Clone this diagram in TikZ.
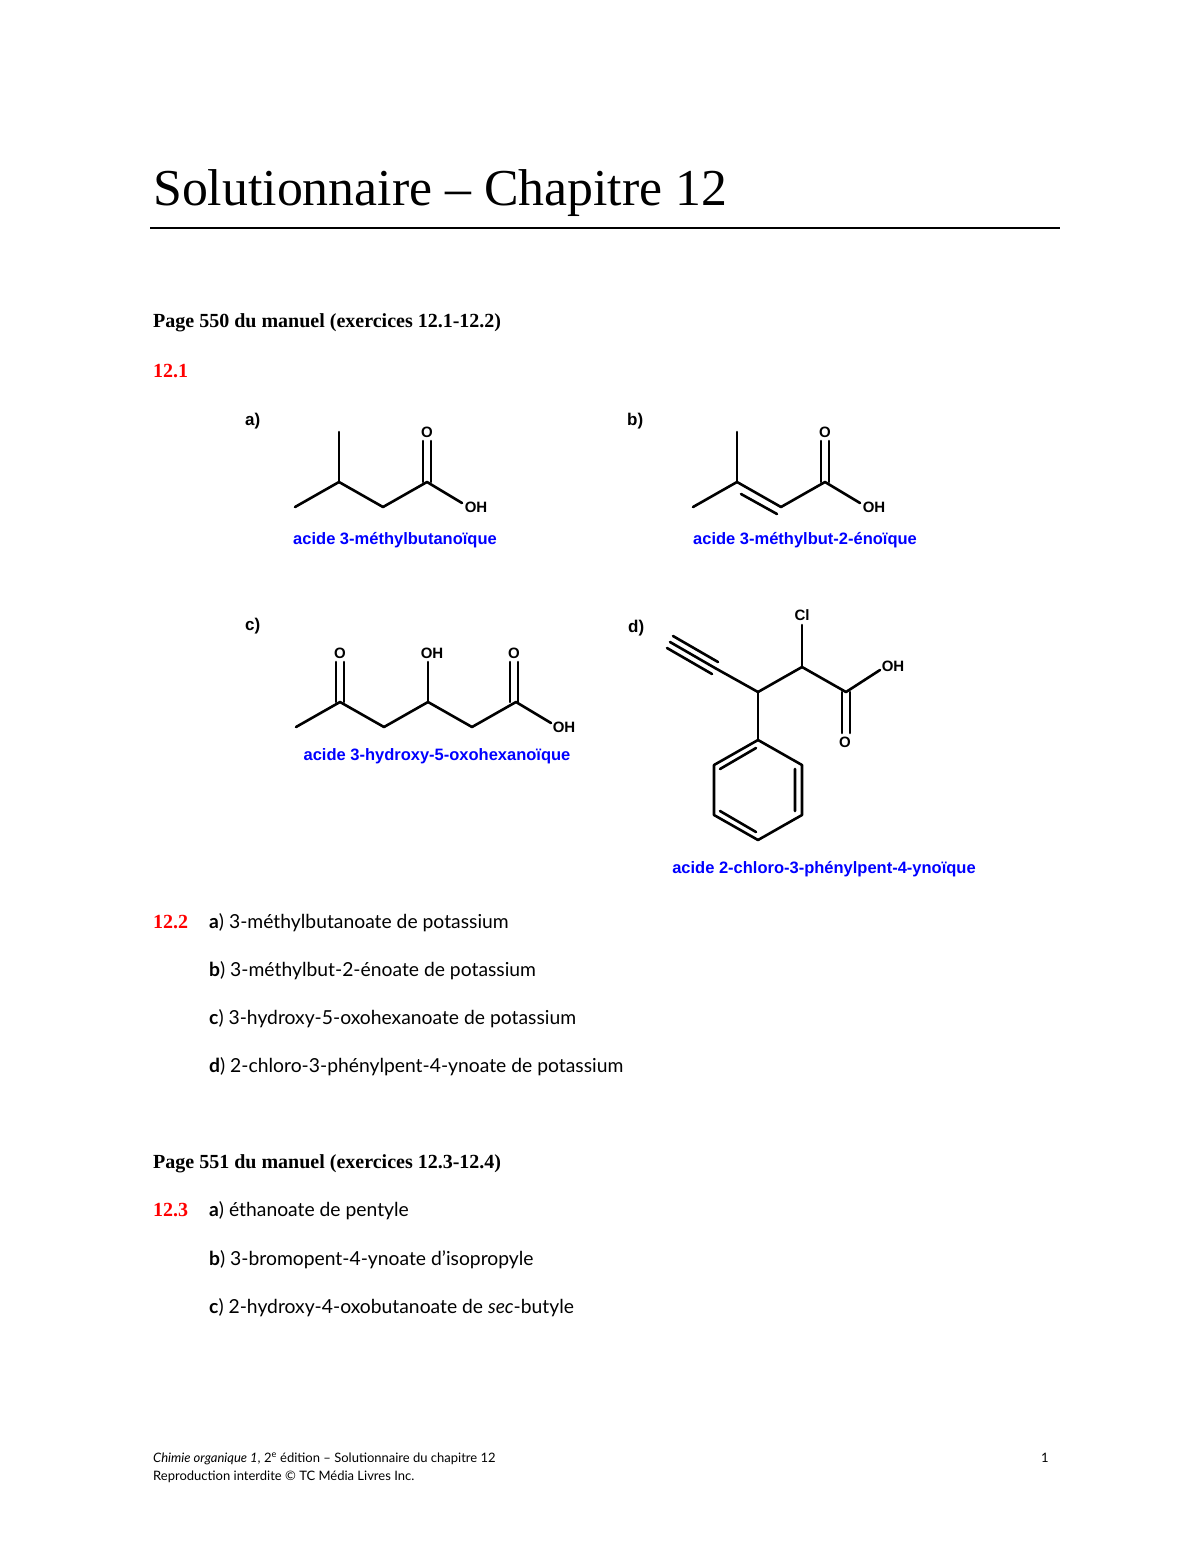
\documentclass[tikz,border=0pt]{standalone}
\usepackage{fontspec}
\setmainfont{Liberation Serif}
\newfontfamily\molf{Liberation Sans}
\newfontfamily\bodyf{Lato}
\begin{document}
\begin{tikzpicture}[x=1pt,y=-1pt,
 bd/.style={line width=2.6pt,line cap=round,line join=round},
 atm/.style={font=\molf\bfseries\fontsize{15}{15}\selectfont,inner sep=0pt},
 nm/.style={font=\molf\bfseries\fontsize{16.5}{18}\selectfont,text=blue,inner sep=0pt},
 hd/.style={anchor=base west,font=\bfseries\fontsize{20}{22}\selectfont,inner sep=0pt},
 rd/.style={anchor=base west,font=\bfseries\fontsize{20}{22}\selectfont,text=red,inner sep=0pt},
 tx/.style={anchor=base west,font=\bodyf\fontsize{19.3}{22}\selectfont,inner sep=0pt},
 lb/.style={anchor=base west,font=\molf\bfseries\fontsize{17}{18}\selectfont,inner sep=0pt},
 ft/.style={anchor=base west,font=\bodyf\fontsize{13}{15}\selectfont,inner sep=0pt}]
\fill[white] (0,0) rectangle (1200,1553);
\node[anchor=base west,inner sep=0pt,font=\fontsize{51.8}{56}\selectfont] (title) at (153,205) {Solutionnaire -- Chapitre 12};
\draw[line width=2.5pt] (150,228) -- (1060,228);
\node[hd] (h1) at (153,327) {Page 550 du manuel (exercices 12.1-12.2)};
\node[rd] (n121) at (153,377) {12.1};
\node[lb] (la) at (245,425) {a)};
\node[lb] (lbb) at (627,425) {b)};
\node[lb] (lc) at (245,630) {c)};
\node[lb] (ld) at (628,632) {d)};
% a
\draw[bd] (295,507)--(339,482)--(383,507)--(427,482)--(462,503);
\draw[bd] (339,482)--(339,432);
\draw[bd] (423,482)--(423,441) (431,482)--(431,441);
\node[atm] (aO) at (427,432) {O};
\node[atm] (aOH) at (476,507) {OH};
\node[nm] (na) at (395,540) {acide 3-méthylbutanoïque};
% b
\draw[bd] (693,507)--(737,482)--(781,507)--(825,482)--(860,503);
\draw[bd] (741,494)--(777,514);
\draw[bd] (737,482)--(737,432);
\draw[bd] (821,482)--(821,441) (829,482)--(829,441);
\node[atm] (bO) at (825,432) {O};
\node[atm] (bOH) at (874,507) {OH};
\node[nm] (nb) at (805,540) {acide 3-méthylbut-2-énoïque};
% c
\draw[bd] (296,727)--(340,702)--(384,727)--(428,702)--(472,727)--(516,702)--(551,723);
\draw[bd] (336,702)--(336,662) (344,702)--(344,662);
\draw[bd] (428,702)--(428,662);
\draw[bd] (510,702)--(510,662) (518,702)--(518,662);
\node[atm] (cO1) at (340,653) {O};
\node[atm] (cOH1) at (432,653) {OH};
\node[atm] (cO2) at (514,653) {O};
\node[atm] (cOH2) at (564,727) {OH};
\node[nm] (nc) at (437,756) {acide 3-hydroxy-5-oxohexanoïque};
% d
\draw[bd] (670,642)--(715,668) (673,636)--(718,662) (667,648)--(712,674);
\draw[bd] (715,668)--(758,692)--(802,667)--(846,692)--(880,670);
\draw[bd] (802,667)--(802,625);
\draw[bd] (842,692)--(842,733) (850,692)--(850,733);
\node[atm] (dCl) at (802,615) {Cl};
\node[atm] (dOH) at (893,666) {OH};
\node[atm] (dO) at (845,742) {O};
\draw[bd] (758,692)--(758,740);
\draw[bd] (758,740)--(802,765)--(802,815)--(758,840)--(714,815)--(714,765)--cycle;
\draw[bd] (720,769)--(756,748) (795,769)--(795,811) (720,811)--(756,832);
\node[nm] (nd) at (824,869) {acide 2-chloro-3-phénylpent-4-ynoïque};
% 12.2
\node[rd] (n122) at (153,928) {12.2};
\node[tx] (t1) at (209,928) {\textbf{a}) 3-méthylbutanoate de potassium};
\node[tx] (t2) at (209,976) {\textbf{b}) 3-méthylbut-2-énoate de potassium};
\node[tx] (t3) at (209,1024) {\textbf{c}) 3-hydroxy-5-oxohexanoate de potassium};
\node[tx] (t4) at (209,1072) {\textbf{d}) 2-chloro-3-phénylpent-4-ynoate de potassium};
\node[hd] (h2) at (153,1168) {Page 551 du manuel (exercices 12.3-12.4)};
\node[rd] (n123) at (153,1216) {12.3};
\node[tx] (t5) at (209,1216) {\textbf{a}) éthanoate de pentyle};
\node[tx] (t6) at (209,1265) {\textbf{b}) 3-bromopent-4-ynoate d’isopropyle};
\node[tx] (t7) at (209,1313) {\textbf{c}) 2-hydroxy-4-oxobutanoate de \textit{sec}-butyle};
\node[ft] (f1) at (153,1462) {\textit{Chimie organique 1}, 2\textsuperscript{e} édition – Solutionnaire du chapitre 12};
\node[ft] (f2) at (153,1480) {Reproduction interdite © TC Média Livres Inc.};
\node[ft] (f3) at (1041,1462) {1};
\end{tikzpicture}
\end{document}
